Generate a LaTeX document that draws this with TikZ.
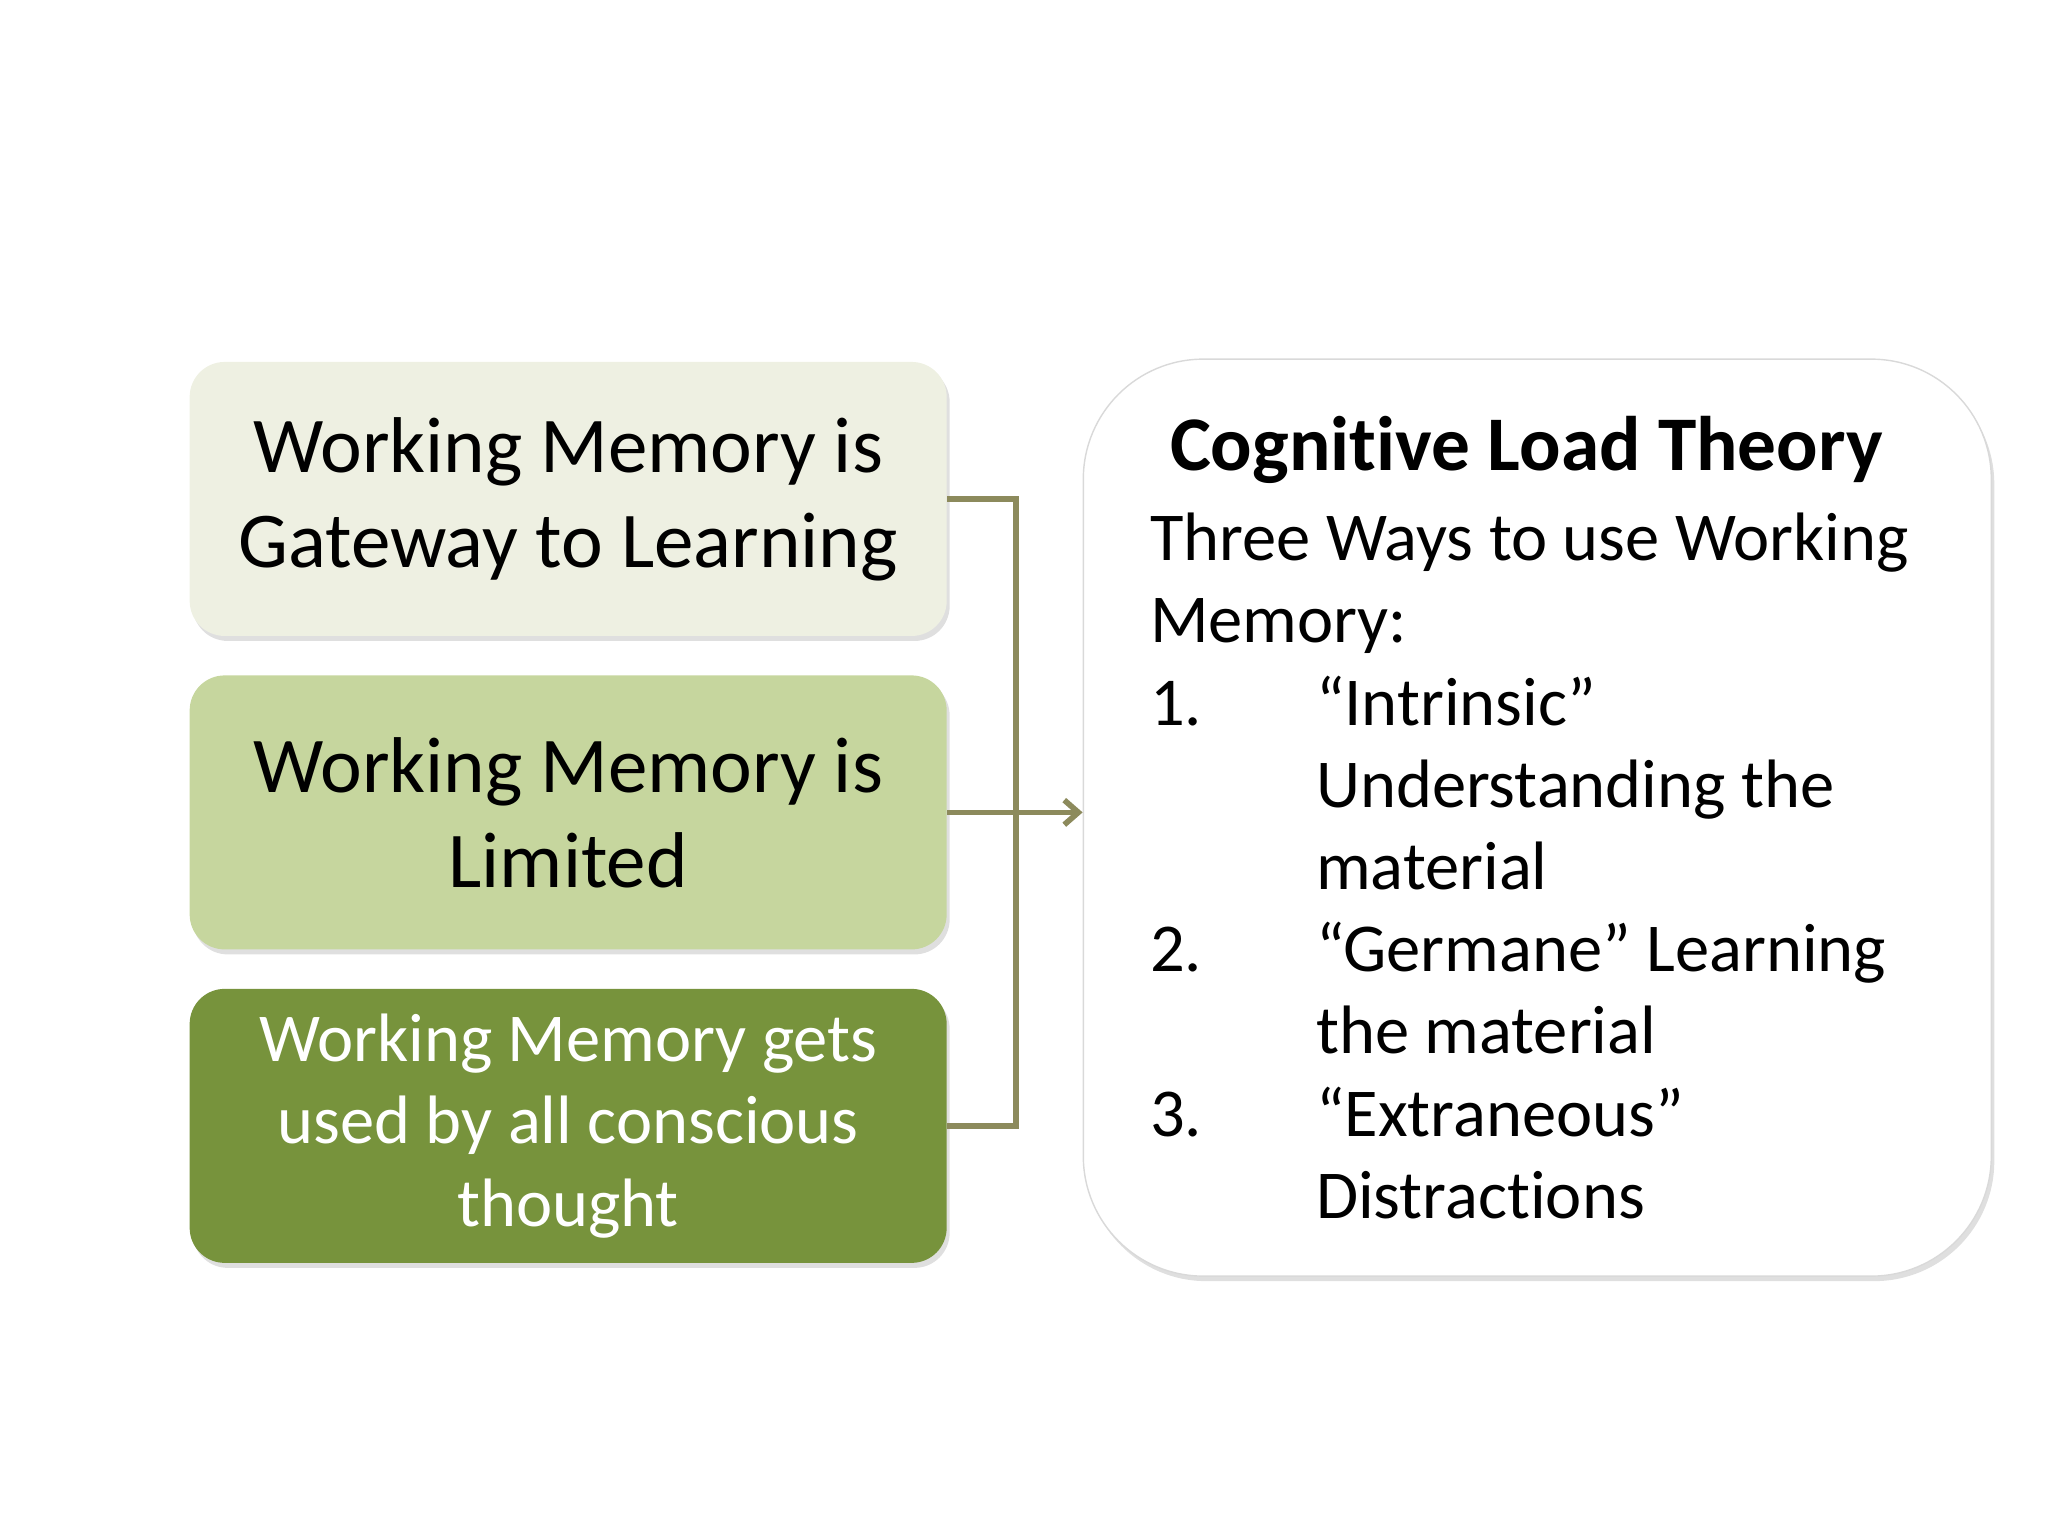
\documentclass[tikz,border=0pt]{standalone}
\usepackage{fontspec}
\setmainfont{Carlito}[Ligatures=NoCommon]
\usetikzlibrary{shadows,arrows.meta}
\definecolor{paleGreen}{HTML}{EEF0E2}
\definecolor{midGreen}{HTML}{C6D69E}
\definecolor{darkGreen}{HTML}{77933C}
\definecolor{linkOlive}{HTML}{8C8A5C}
\begin{document}
\begin{tikzpicture}[
    x=0.01306cm, y=-0.01306cm,
    box/.style={rounded corners=0.35cm, minimum width=7.57cm, minimum height=2.74cm,
        align=center, drop shadow={opacity=0.25, shadow xshift=0.03cm, shadow yshift=-0.05cm}},
    link/.style={draw=linkOlive, line width=1.6pt}
]
\useasboundingbox (0,0) rectangle (1568,1176);

% Left boxes
\node[box, fill=paleGreen, font=\fontsize{22.5}{27}\selectfont] (gateway) at (435,382) {Working Memory is\\Gateway to Learning};
\node[box, fill=midGreen, font=\fontsize{22.5}{27}\selectfont] (limited) at (435,622) {Working Memory is\\Limited};
\node[box, fill=darkGreen, text=white, font=\fontsize{19.5}{23.4}\selectfont] (thought) at (435,862) {Working Memory gets\\used by all conscious\\thought};

% Right box
\node[draw=white!85!black, fill=white, rounded corners=1.2cm, minimum width=9.08cm, minimum height=9.17cm,
    drop shadow={opacity=0.25, shadow xshift=0.03cm, shadow yshift=-0.05cm}] (clt) at (1177,626) {};
\node[anchor=north west, align=left, inner sep=0pt, font=\fontsize{19.5}{23.4}\selectfont] (list) at (880,318)
{\hspace*{0.2cm}{\bfseries\fontsize{22}{23.4}\selectfont Cognitive Load Theory}\\[0.08cm]
Three Ways to use Working\\Memory:\\
\makebox[1.66cm][l]{1.}“Intrinsic”\\
\makebox[1.66cm][l]{}Understanding the\\
\makebox[1.66cm][l]{}material\\
\makebox[1.66cm][l]{2.}“Germane” Learning\\
\makebox[1.66cm][l]{}the material\\
\makebox[1.66cm][l]{3.}“Extraneous”\\
\makebox[1.66cm][l]{}Distractions};

% Connectors
\coordinate (join) at (778,622);
\draw[link] (gateway.east) -| (join);
\draw[link] (thought.east) -| (join);
\draw[link] (limited.east) -- (join);
\draw[link, -{Straight Barb[length=4pt,width=7pt]}] (join) -- (join -| clt.west);
\end{tikzpicture}
\end{document}
